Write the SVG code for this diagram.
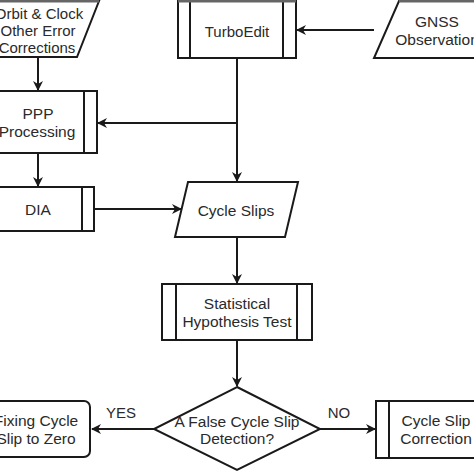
<svg xmlns="http://www.w3.org/2000/svg" width="474" height="474" viewBox="0 0 474 474">
<defs>
<style>
.s{fill:#fff;stroke:#1a1a1a;stroke-width:2}
.l{fill:none;stroke:#1a1a1a;stroke-width:2}
.t{font-family:"Liberation Sans",Arial,sans-serif;font-size:15.5px;fill:#2a2a2a;text-anchor:middle}
.sm{font-size:15px}
.top{stroke:#666;stroke-width:3}
</style>
<marker id="a" markerWidth="10" markerHeight="10" refX="9" refY="5" orient="auto" markerUnits="userSpaceOnUse">
<path d="M0,0 L10,5 L0,10 L3,5 Z" fill="#1a1a1a"/>
</marker>
</defs>
<rect width="474" height="474" fill="#fff"/>
<g id="connectors">
<line class="l" x1="38" y1="57" x2="38" y2="90" marker-end="url(#a)"/>
<line class="l" x1="38" y1="153" x2="38" y2="186" marker-end="url(#a)"/>
<line class="l" x1="374" y1="30" x2="297" y2="30" marker-end="url(#a)"/>
<line class="l" x1="237" y1="58" x2="237" y2="181" marker-end="url(#a)"/>
<line class="l" x1="237" y1="123" x2="98" y2="123" marker-end="url(#a)"/>
<line class="l" x1="94" y1="209" x2="181" y2="209" marker-end="url(#a)"/>
<line class="l" x1="237" y1="237" x2="237" y2="283" marker-end="url(#a)"/>
<line class="l" x1="237" y1="340" x2="237" y2="386" marker-end="url(#a)"/>
<line class="l" x1="154" y1="429" x2="92" y2="429" marker-end="url(#a)"/>
<line class="l" x1="320" y1="429" x2="375" y2="429" marker-end="url(#a)"/>
<text class="t sm" x="121" y="418">YES</text>
<text class="t sm" x="339" y="418">NO</text>
</g>
<g id="orbit">
<polygon class="s" points="-30,1 99,1 77,57 -52,57"/>
<line class="top" x1="0" y1="1" x2="99" y2="1"/>
<text class="t sm" x="39" y="19">Orbit &amp; Clock</text>
<text class="t sm" x="38" y="36">Other Error</text>
<text class="t sm" x="37" y="53">Corrections</text>
</g>
<g id="turboedit">
<rect class="s" x="178" y="1" width="118" height="57"/>
<line class="l" x1="190" y1="1" x2="190" y2="58"/>
<line class="l" x1="283" y1="1" x2="283" y2="58"/>
<line class="top" x1="178" y1="1" x2="296" y2="1"/>
<text class="t sm" x="237" y="37">TurboEdit</text>
</g>
<g id="gnss">
<polygon class="s" points="399,1 520,1 495,58 374,58"/>
<line class="top" x1="399" y1="1" x2="474" y2="1"/>
<text class="t" x="437" y="27">GNSS</text>
<text class="t" x="437" y="45">Observation</text>
</g>
<g id="ppp">
<rect class="s" x="-10" y="91" width="107" height="62"/>
<line class="l" x1="84" y1="91" x2="84" y2="153"/>
<text class="t" x="38" y="119">PPP</text>
<text class="t" x="37" y="137">Processing</text>
</g>
<g id="dia">
<rect class="s" x="-10" y="187" width="104" height="44"/>
<line class="l" x1="82" y1="187" x2="82" y2="231"/>
<text class="t" x="38" y="215">DIA</text>
</g>
<g id="cycleslips">
<polygon class="s" points="188,182 298,182 285,237 175,237"/>
<text class="t" x="236" y="216">Cycle Slips</text>
</g>
<g id="stat">
<rect class="s" x="162" y="284" width="150" height="56"/>
<line class="l" x1="176" y1="284" x2="176" y2="340"/>
<line class="l" x1="297" y1="284" x2="297" y2="340"/>
<text class="t" x="237" y="309">Statistical</text>
<text class="t" x="237" y="327">Hypothesis Test</text>
</g>
<g id="decision">
<polygon class="s" points="237,387 320,429 237,470 154,429"/>
<text class="t" x="237" y="427">A False Cycle Slip</text>
<text class="t" x="237" y="444">Detection?</text>
</g>
<g id="fixing">
<rect class="s" x="-20" y="401" width="110" height="56" rx="6"/>
<text class="t" x="36" y="426">Fixing Cycle</text>
<text class="t" x="36" y="444">Slip to Zero</text>
</g>
<g id="correction">
<rect class="s" x="376" y="401" width="110" height="57"/>
<line class="l" x1="389" y1="401" x2="389" y2="458"/>
<text class="t" x="436" y="426">Cycle Slip</text>
<text class="t" x="436" y="444">Correction</text>
</g>
</svg>
